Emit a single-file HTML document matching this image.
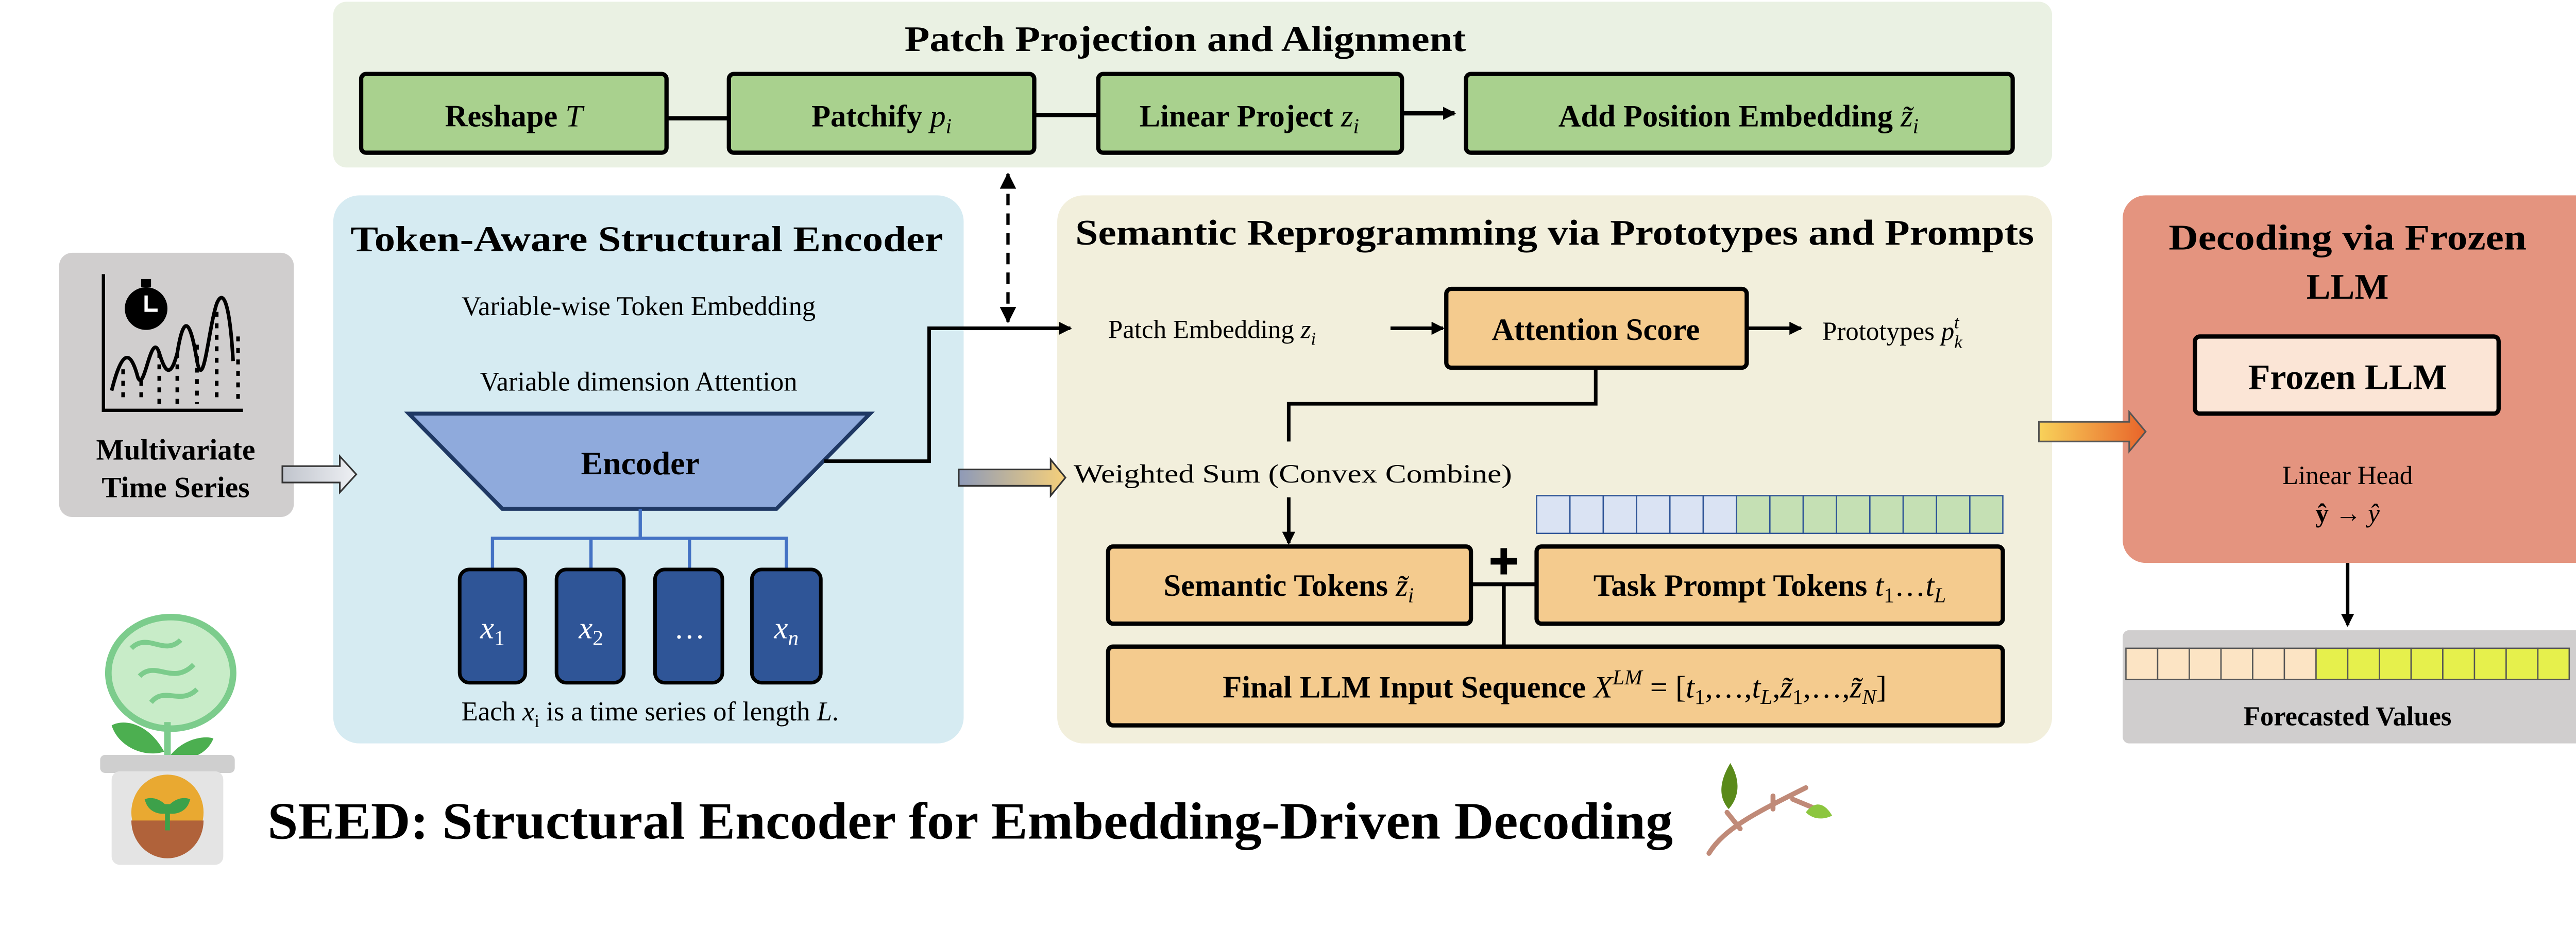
<!DOCTYPE html>
<html><head><meta charset="utf-8"><style>
html,body{margin:0;padding:0;background:#fff}
svg{display:block}
text{font-family:"Liberation Serif","Times New Roman",serif}
.b{font-weight:bold}
</style></head><body>
<svg width="5178" height="1839" viewBox="0 0 1625 577" xmlns="http://www.w3.org/2000/svg">
<defs>
<marker id="ah" markerWidth="8" markerHeight="8" refX="7" refY="4" orient="auto" markerUnits="userSpaceOnUse"><path d="M0,0 L8,4 L0,8 Z" fill="#000"/></marker>
<marker id="ahs" markerWidth="10" markerHeight="10" refX="9" refY="5" orient="auto-start-reverse" markerUnits="userSpaceOnUse"><path d="M0,0 L10,5 L0,10 Z" fill="#000"/></marker>
<linearGradient id="g1" x1="0" x2="1"><stop offset="0" stop-color="#c0c4cc"/><stop offset="1" stop-color="#eef0f4"/></linearGradient>
<linearGradient id="g2" x1="0" x2="1"><stop offset="0" stop-color="#8e9ab8"/><stop offset="1" stop-color="#f6d07a"/></linearGradient>
<linearGradient id="g3" x1="0" x2="1"><stop offset="0" stop-color="#f8d25a"/><stop offset="1" stop-color="#e8642a"/></linearGradient>
</defs>

<!-- Panels -->
<rect x="203" y="1" width="1047" height="101" rx="8" fill="#eaf1e3"/>
<rect x="36" y="154" width="143" height="161" rx="8" fill="#d0cece"/>
<rect x="203" y="119" width="384" height="334" rx="16" fill="#d6ebf2"/>
<rect x="644" y="119" width="606" height="334" rx="16" fill="#f2efdc"/>
<rect x="1293" y="119" width="290" height="224" rx="14" fill="#e4947f"/>
<rect x="1293" y="384" width="290" height="69" rx="4" fill="#d0cece"/>

<text x="722" y="31" class="b" font-size="22" text-anchor="middle" textLength="342" lengthAdjust="spacingAndGlyphs">Patch Projection and Alignment</text>
<g stroke="#000" stroke-width="2.6" fill="#a9d18e">
<rect x="220" y="45" width="186" height="48" rx="3"/>
<rect x="444" y="45" width="186" height="48" rx="3"/>
<rect x="669" y="45" width="185" height="48" rx="3"/>
<rect x="893" y="45" width="333" height="48" rx="3"/>
</g>
<g stroke="#000" stroke-width="2.6">
<line x1="406" y1="72" x2="444" y2="72"/>
<line x1="630" y1="70" x2="669" y2="70"/>
<line x1="854" y1="69" x2="886" y2="69" marker-end="url(#ah)"/>
</g>
<g font-size="19" class="b" text-anchor="middle">
<text x="313" y="77">Reshape <tspan font-style="italic" font-weight="normal">T</tspan></text>
<text x="537" y="77">Patchify <tspan font-style="italic" font-weight="normal">p<tspan font-size="13" dy="4">i</tspan></tspan></text>
<text x="761" y="77">Linear Project <tspan font-style="italic" font-weight="normal">z<tspan font-size="13" dy="4">i</tspan></tspan></text>
<text x="1059" y="77">Add Position Embedding <tspan font-style="italic" font-weight="normal">z̃<tspan font-size="13" dy="4">i</tspan></tspan></text>
</g>

<!-- Left input -->
<g stroke="#000" fill="none" stroke-width="2">
<path d="M63,167 L63,250 L148,250"/>
<path d="M68,238 C75,210 80,215 84,230 C88,240 92,200 97,215 C101,228 104,230 108,215 C112,190 116,195 120,220 C124,240 127,200 132,185 C136,175 140,185 142,220" stroke-width="2.2"/>
<g stroke-dasharray="3,4" stroke-width="2.2"><line x1="75" y1="225" x2="75" y2="246"/><line x1="86" y1="232" x2="86" y2="246"/><line x1="97" y1="215" x2="97" y2="246"/><line x1="108" y1="215" x2="108" y2="246"/><line x1="120" y1="210" x2="120" y2="246"/><line x1="132" y1="190" x2="132" y2="246"/><line x1="145" y1="205" x2="145" y2="246"/></g>
</g>
<circle cx="89" cy="188" r="13" fill="#000"/>
<rect x="86" y="170" width="6" height="5" fill="#000"/>
<path d="M89,180 L89,189 L96,189" stroke="#fff" stroke-width="2" fill="none"/>
<text x="107" y="280" class="b" font-size="18" text-anchor="middle">Multivariate</text>
<text x="107" y="303" class="b" font-size="18" text-anchor="middle">Time Series</text>

<!-- Blue panel contents -->
<text x="394" y="153" class="b" font-size="22" text-anchor="middle" textLength="361" lengthAdjust="spacingAndGlyphs">Token-Aware Structural Encoder</text>
<text x="389" y="192" font-size="16.5" text-anchor="middle">Variable-wise Token Embedding</text>
<text x="389" y="238" font-size="16.5" text-anchor="middle">Variable dimension Attention</text>
<path d="M249,252 L530,252 L473,310 L306,310 Z" fill="#8faadc" stroke="#1f3864" stroke-width="2.4"/>
<text x="390" y="289" class="b" font-size="20" text-anchor="middle">Encoder</text>
<g stroke="#4472c4" stroke-width="2" fill="none">
<path d="M390,310 L390,328 M300,346 L300,328 L479,328 L479,346 M360,328 L360,346 M420,328 L420,346"/>
</g>
<g fill="#2f5597" stroke="#000" stroke-width="2.2">
<rect x="280" y="347" width="40" height="69" rx="6"/>
<rect x="339" y="347" width="41" height="69" rx="6"/>
<rect x="399" y="347" width="41" height="69" rx="6"/>
<rect x="458" y="347" width="42" height="69" rx="6"/>
</g>
<g fill="#fff" font-size="19" text-anchor="middle">
<text x="300" y="389"><tspan font-style="italic">x</tspan><tspan font-size="13" dy="4">1</tspan></text>
<text x="360" y="389"><tspan font-style="italic">x</tspan><tspan font-size="13" dy="4">2</tspan></text>
<text x="420" y="389">…</text>
<text x="479" y="389"><tspan font-style="italic">x</tspan><tspan font-size="13" dy="4" font-style="italic">n</tspan></text>
</g>
<text x="396" y="439" font-size="16.5" text-anchor="middle">Each <tspan font-style="italic">x</tspan><tspan font-size="11" dy="4">i</tspan><tspan dy="-4"> is a time series of length </tspan><tspan font-style="italic">L</tspan>.</text>

<!-- Connections encoder to semantic -->
<path d="M502,281 L566,281 L566,200 L652,200" stroke="#000" stroke-width="2.2" fill="none" marker-end="url(#ah)"/>
<line x1="614" y1="106" x2="614" y2="196" stroke="#000" stroke-width="2" stroke-dasharray="7,5" marker-start="url(#ahs)" marker-end="url(#ahs)"/>

<!-- Semantic panel contents -->
<text x="947" y="149" class="b" font-size="22" text-anchor="middle" textLength="584" lengthAdjust="spacingAndGlyphs">Semantic Reprogramming via Prototypes and Prompts</text>
<text x="675" y="206" font-size="16">Patch Embedding <tspan font-style="italic">z</tspan><tspan font-style="italic" font-size="11" dy="4">i</tspan></text>
<line x1="847" y1="200" x2="879" y2="200" stroke="#000" stroke-width="2.2" marker-end="url(#ah)"/>
<rect x="881" y="176" width="183" height="48" rx="3" fill="#f4cb8e" stroke="#000" stroke-width="2.6"/>
<text x="972" y="207" class="b" font-size="19" text-anchor="middle">Attention Score</text>
<line x1="1064" y1="200" x2="1097" y2="200" stroke="#000" stroke-width="2.2" marker-end="url(#ah)"/>
<text x="1110" y="207" font-size="16">Prototypes <tspan font-style="italic">p</tspan><tspan font-style="italic" font-size="11" dy="5">k</tspan><tspan font-style="italic" font-size="11" dx="-5" dy="-12">t</tspan></text>
<path d="M972,224 L972,246 L785,246 L785,269" stroke="#000" stroke-width="2.2" fill="none"/>
<text x="654" y="294" font-size="16" textLength="267" lengthAdjust="spacingAndGlyphs">Weighted Sum (Convex Combine)</text>
<line x1="785" y1="303" x2="785" y2="331" stroke="#000" stroke-width="2.2" marker-end="url(#ah)"/>
<g stroke="#2f5597" stroke-width="0.8">
<rect x="936" y="302" width="20.3" height="23" fill="#dae3f3"/><rect x="956.3" y="302" width="20.3" height="23" fill="#dae3f3"/><rect x="976.6" y="302" width="20.3" height="23" fill="#dae3f3"/><rect x="996.9" y="302" width="20.3" height="23" fill="#dae3f3"/><rect x="1017.2" y="302" width="20.3" height="23" fill="#dae3f3"/><rect x="1037.5" y="302" width="20.3" height="23" fill="#dae3f3"/>
<rect x="1057.8" y="302" width="20.3" height="23" fill="#c5e0b4"/><rect x="1078.1" y="302" width="20.3" height="23" fill="#c5e0b4"/><rect x="1098.4" y="302" width="20.3" height="23" fill="#c5e0b4"/><rect x="1118.7" y="302" width="20.3" height="23" fill="#c5e0b4"/><rect x="1139" y="302" width="20.3" height="23" fill="#c5e0b4"/><rect x="1159.3" y="302" width="20.3" height="23" fill="#c5e0b4"/><rect x="1179.6" y="302" width="20.3" height="23" fill="#c5e0b4"/><rect x="1199.9" y="302" width="20.1" height="23" fill="#c5e0b4"/>
</g>
<g fill="#f4cb8e" stroke="#000" stroke-width="2.6">
<rect x="675" y="333" width="221" height="47" rx="3"/>
<rect x="936" y="333" width="284" height="47" rx="3"/>
<rect x="675" y="394" width="545" height="48" rx="3"/>
</g>
<path d="M896,356 L936,356 M916,356 L916,394" stroke="#000" stroke-width="2.4"/>
<path d="M916,334 L916,350 M908,342 L924,342" stroke="#000" stroke-width="4"/>
<text x="785" y="363" class="b" font-size="19" text-anchor="middle">Semantic Tokens <tspan font-style="italic" font-weight="normal">z̃<tspan font-size="13" dy="4">i</tspan></tspan></text>
<text x="1078" y="363" class="b" font-size="19" text-anchor="middle">Task Prompt Tokens <tspan font-style="italic" font-weight="normal">t<tspan font-size="13" dy="4" font-style="normal">1</tspan><tspan dy="-4" font-style="normal">…</tspan>t<tspan font-size="13" dy="4">L</tspan></tspan></text>
<text x="947" y="425" class="b" font-size="19" text-anchor="middle">Final LLM Input Sequence <tspan font-style="italic" font-weight="normal">X<tspan font-size="13" dy="-8">LM</tspan><tspan dy="8" font-style="normal"> = [</tspan>t<tspan font-size="13" dy="4" font-style="normal">1</tspan><tspan dy="-4" font-style="normal">,…,</tspan>t<tspan font-size="13" dy="4">L</tspan><tspan dy="-4" font-style="normal">,</tspan>z̃<tspan font-size="13" dy="4" font-style="normal">1</tspan><tspan dy="-4" font-style="normal">,…,</tspan>z̃<tspan font-size="13" dy="4">N</tspan><tspan dy="-4" font-style="normal">]</tspan></tspan></text>

<!-- Decoding panel contents -->
<text x="1430" y="152" class="b" font-size="22" text-anchor="middle" textLength="218" lengthAdjust="spacingAndGlyphs">Decoding via Frozen</text>
<text x="1430" y="182" class="b" font-size="22" text-anchor="middle">LLM</text>
<rect x="1337" y="205" width="185" height="47" rx="3" fill="#fbe5d6" stroke="#000" stroke-width="2.6"/>
<text x="1430" y="237" class="b" font-size="22" text-anchor="middle">Frozen LLM</text>
<text x="1430" y="295" font-size="16" text-anchor="middle">Linear Head</text>
<text x="1430" y="318" font-size="16" text-anchor="middle"><tspan font-weight="bold">ŷ</tspan> → <tspan font-style="italic">ŷ</tspan></text>
<line x1="1430" y1="343" x2="1430" y2="381" stroke="#000" stroke-width="2.2" marker-end="url(#ah)"/>
<g stroke="#555" stroke-width="0.8">
<rect x="1295" y="395" width="19.3" height="19" fill="#fce4c4"/><rect x="1314.3" y="395" width="19.3" height="19" fill="#fce4c4"/><rect x="1333.6" y="395" width="19.3" height="19" fill="#fce4c4"/><rect x="1352.9" y="395" width="19.3" height="19" fill="#fce4c4"/><rect x="1372.2" y="395" width="19.3" height="19" fill="#fce4c4"/><rect x="1391.5" y="395" width="19.3" height="19" fill="#fce4c4"/>
<rect x="1410.8" y="395" width="19.3" height="19" fill="#e6f04c"/><rect x="1430.1" y="395" width="19.3" height="19" fill="#e6f04c"/><rect x="1449.4" y="395" width="19.3" height="19" fill="#e6f04c"/><rect x="1468.7" y="395" width="19.3" height="19" fill="#e6f04c"/><rect x="1488" y="395" width="19.3" height="19" fill="#e6f04c"/><rect x="1507.3" y="395" width="19.3" height="19" fill="#e6f04c"/><rect x="1526.6" y="395" width="19.3" height="19" fill="#e6f04c"/><rect x="1545.9" y="395" width="19.1" height="19" fill="#e6f04c"/>
</g>
<text x="1430" y="442" class="b" font-size="16.5" text-anchor="middle">Forecasted Values</text>

<!-- Block arrows (on top) -->
<path d="M172,284 L207,284 L207,278 L217,289 L207,300 L207,294 L172,294 Z" fill="url(#g1)" stroke="#333" stroke-width="1"/>
<path d="M584,286 L640,286 L640,280 L649,291 L640,302 L640,296 L584,296 Z" fill="url(#g2)" stroke="#333" stroke-width="1"/>
<path d="M1242,257 L1297,257 L1297,251 L1307,263 L1297,275 L1297,269 L1242,269 Z" fill="url(#g3)" stroke="#555" stroke-width="1"/>

<!-- Plant pot icon -->
<ellipse cx="104" cy="410" rx="38" ry="34" fill="#c8ecc8" stroke="#7ccc8c" stroke-width="4"/>
<path d="M80,395 C90,385 100,400 110,390 M85,412 C95,402 105,418 118,405 M92,428 C100,418 110,430 120,420" stroke="#7ccc8c" stroke-width="3" fill="none"/>
<path d="M102,440 L102,460" stroke="#7ccc8c" stroke-width="4"/>
<path d="M100,458 C90,440 75,438 68,442 C72,455 88,462 100,458 Z" fill="#4caf50"/>
<path d="M104,460 C112,450 125,448 130,450 C126,460 114,465 104,460 Z" fill="#4caf50"/>
<rect x="61" y="460" width="82" height="11" rx="3" fill="#cfcfcf"/>
<rect x="68" y="470" width="68" height="57" rx="5" fill="#e4e4e4"/>
<ellipse cx="102" cy="495" rx="22" ry="23" fill="#e9a931"/>
<path d="M80,500 L124,500 A22,23 0 0 1 80,500 Z" fill="#b0623a"/>
<path d="M102,506 L102,490 M102,494 C96,486 90,488 90,488 C92,494 98,495 102,494 M102,494 C108,486 114,488 114,488 C112,494 106,495 102,494" stroke="#3da14a" stroke-width="3" fill="#3da14a"/>

<!-- Bottom title -->
<text x="163" y="511" class="b" font-size="32" textLength="856" lengthAdjust="spacingAndGlyphs">SEED: Structural Encoder for Embedding-Driven Decoding</text>

<!-- Branch icon -->
<path d="M1041,520 C1050,505 1070,495 1100,480 M1060,505 L1052,495 M1080,493 L1080,485 M1092,487 L1104,492" stroke="#c08a78" stroke-width="3" fill="none" stroke-linecap="round"/>
<path d="M1053,493 C1046,485 1048,475 1054,465 C1060,475 1060,485 1053,493 Z" fill="#5a8a1a"/>
<path d="M1100,495 C1106,487 1112,490 1116,497 C1110,500 1104,499 1100,495 Z" fill="#8cc63f"/>
</svg>
</body></html>
